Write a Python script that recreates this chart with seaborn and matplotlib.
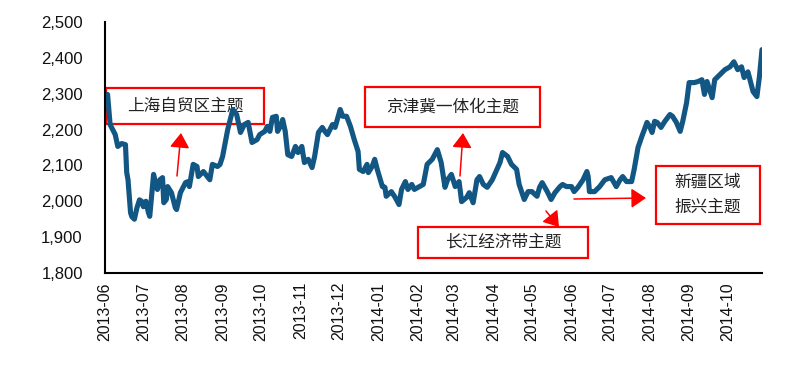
import pandas as pd
import matplotlib
matplotlib.use("Agg")
import matplotlib.pyplot as plt
import matplotlib.dates as mdates
import matplotlib.ticker as mticker
from matplotlib.patches import Rectangle, FancyArrowPatch
import seaborn as sns

# index level
dates = ['2013-06-03','2013-06-05','2013-06-09','2013-06-11','2013-06-14','2013-06-17','2013-06-18','2013-06-19','2013-06-21','2013-06-22',
         '2013-06-24','2013-06-26','2013-06-28','2013-06-30','2013-07-01','2013-07-03','2013-07-05','2013-07-06','2013-07-09','2013-07-10',
         '2013-07-12','2013-07-14','2013-07-16','2013-07-17','2013-07-19','2013-07-20','2013-07-23','2013-07-26','2013-07-27','2013-07-30',
         '2013-08-03','2013-08-05','2013-08-06','2013-08-09','2013-08-12','2013-08-13','2013-08-17','2013-08-20','2013-08-22','2013-08-24',
         '2013-08-28','2013-08-30','2013-09-01','2013-09-05','2013-09-09','2013-09-12','2013-09-15','2013-09-18','2013-09-21','2013-09-24',
         '2013-09-28','2013-09-30','2013-10-04','2013-10-06','2013-10-08','2013-10-10','2013-10-13','2013-10-14','2013-10-17','2013-10-18',
         '2013-10-20','2013-10-22','2013-10-25','2013-10-28','2013-10-30','2013-11-02','2013-11-04','2013-11-07','2013-11-10','2013-11-12',
         '2013-11-15','2013-11-18','2013-11-20','2013-11-22','2013-11-26','2013-11-28','2013-12-02','2013-12-04','2013-12-07','2013-12-10',
         '2013-12-13','2013-12-16','2013-12-17','2013-12-20','2013-12-23','2013-12-24','2013-12-27','2013-12-29','2013-12-31','2014-01-04',
         '2014-01-06','2014-01-07','2014-01-11','2014-01-14','2014-01-17','2014-01-19','2014-01-22','2014-01-24','2014-01-27','2014-01-29',
         '2014-02-05','2014-02-08','2014-02-12','2014-02-16','2014-02-19','2014-02-22','2014-02-24','2014-02-27','2014-03-02','2014-03-05',
         '2014-03-07','2014-03-11','2014-03-13','2014-03-16','2014-03-19','2014-03-21','2014-03-24','2014-03-27','2014-03-31','2014-04-06',
         '2014-04-08','2014-04-12','2014-04-15','2014-04-19','2014-04-21','2014-04-25','2014-04-28','2014-05-01','2014-05-05','2014-05-07',
         '2014-05-09','2014-05-13','2014-05-16','2014-05-19','2014-05-23','2014-05-25','2014-05-28','2014-06-01','2014-06-03','2014-06-06',
         '2014-06-10','2014-06-13','2014-06-14','2014-06-15','2014-06-19','2014-06-23','2014-06-27','2014-07-02','2014-07-06','2014-07-09',
         '2014-07-11','2014-07-14','2014-07-18','2014-07-20','2014-07-23','2014-07-26','2014-07-28','2014-07-30','2014-08-01','2014-08-03',
         '2014-08-05','2014-08-07','2014-08-10','2014-08-13','2014-08-17','2014-08-19','2014-08-22','2014-08-25','2014-08-27','2014-08-30',
         '2014-09-01','2014-09-05','2014-09-08','2014-09-11','2014-09-13','2014-09-15','2014-09-19','2014-09-21','2014-09-25','2014-09-29',
         '2014-10-03','2014-10-06','2014-10-09','2014-10-12','2014-10-14','2014-10-17','2014-10-21','2014-10-24','2014-10-26','2014-10-28']

values = [2298,2214,2186,2153,2161,2158,2080,2060,1968,1957,
          1950,1982,2004,1999,1985,2000,1968,1958,2075,2060,
          2033,2060,2066,1996,2005,2041,2024,1982,1977,2024,
          2052,2055,2041,2103,2097,2069,2083,2069,2060,2103,
          2097,2103,2125,2200,2256,2242,2192,2214,2220,2164,
          2172,2186,2195,2209,2195,2234,2237,2195,2214,2228,
          2195,2130,2125,2153,2136,2153,2108,2117,2094,2125,
          2192,2206,2195,2186,2214,2206,2256,2237,2237,2209,
          2172,2139,2089,2083,2103,2080,2097,2117,2089,2041,
          2039,2014,2027,2011,1991,2033,2055,2033,2047,2033,
          2047,2103,2117,2144,2108,2039,2060,2075,2041,2055,
          1999,2011,2024,1996,2060,2069,2047,2039,2060,2108,
          2136,2125,2103,2089,2047,2005,2027,2027,2014,2039,
          2052,2027,2005,2024,2041,2047,2041,2041,2027,2039,
          2060,2083,2069,2027,2027,2041,2060,2066,2041,2060,
          2069,2055,2055,2089,2150,2181,2200,2220,2209,2192,
          2223,2220,2206,2223,2242,2237,2220,2195,2223,2275,
          2331,2331,2334,2339,2298,2334,2289,2339,2353,2367,
          2375,2389,2367,2375,2345,2361,2306,2292,2348,2423]

# theme boxes
themes = ['上海自贸区主题', '京津冀一体化主题', '长江经济带主题', '新疆区域\n振兴主题']

df = pd.DataFrame({'date': pd.to_datetime(dates), 'value': values})

sns.set_style('white')
plt.rcParams['font.family'] = ['Liberation Sans', 'Noto Sans CJK SC', 'DejaVu Sans']

W, H = 800, 373
fig = plt.figure(figsize=(8, 3.73), dpi=100)
ax = fig.add_axes([105 / W, 1 - 273 / H, (762 - 105) / W, (273 - 22) / H])

sns.lineplot(data=df, x='date', y='value', ax=ax, color='#125784', linewidth=3.7, zorder=3)

ax.set_xlim(pd.Timestamp('2013-06-01'), pd.Timestamp('2014-10-28'))
ax.set_ylim(1800, 2500)
ax.yaxis.set_major_locator(mticker.MultipleLocator(100))
ax.yaxis.set_major_formatter(mticker.FuncFormatter(lambda v, p: f'{v:,.0f}'))
ax.xaxis.set_major_locator(mdates.MonthLocator())
ax.xaxis.set_major_formatter(mdates.DateFormatter('%Y-%m'))
ax.tick_params(axis='x', direction='in', length=4, width=1.2, labelsize=11.5, labelrotation=90, pad=6.5,
               labelcolor='#111111')
ax.tick_params(axis='y', direction='in', length=4, width=1.2, labelsize=12, pad=16, labelcolor='#111111')
ax.set_xlabel('')
ax.set_ylabel('')
sns.despine(ax=ax)
for s in ['left', 'bottom']:
    ax.spines[s].set_linewidth(1.5)
    ax.spines[s].set_color('black')
    ax.spines[s].set_zorder(4)


def px(x, y):
    return x / W, 1 - y / H


# boxes and text sit under the index line, as in the source
def box(x0, y0, x1, y1, text):
    fx, fy = px(x0, y1)
    ax.add_patch(Rectangle((fx, fy), (x1 - x0) / W, (y1 - y0) / H, transform=fig.transFigure,
                           facecolor='white', edgecolor='#ff0000', linewidth=1.6, zorder=1, clip_on=False))
    cx, cy = px((x0 + x1) / 2, (y0 + y1) / 2)
    ax.text(cx, cy, text, transform=fig.transFigure, ha='center', va='center', fontsize=12, color='#222222',
            family=['Noto Sans CJK SC'], linespacing=1.6, zorder=2, clip_on=False)


def arrow(x0, y0, x1, y1):
    ax.add_patch(FancyArrowPatch(
        px(x0, y0), px(x1, y1), transform=fig.transFigure,
        arrowstyle='-|>,head_length=0.45,head_width=0.3', mutation_scale=20,
        color='#ff0000', linewidth=1.1, shrinkA=0, shrinkB=0, zorder=5, clip_on=False))


box(106, 88, 264, 124, themes[0])
box(365, 87, 540, 127, themes[1])
box(418, 227, 588, 258, themes[2])
box(656, 166, 760, 224, themes[3])

arrow(177, 176, 181, 133)
arrow(460, 176, 463, 133)
arrow(546, 211, 559, 227)
arrow(574, 199, 646, 198)

fig.savefig('out.png', dpi=100)
